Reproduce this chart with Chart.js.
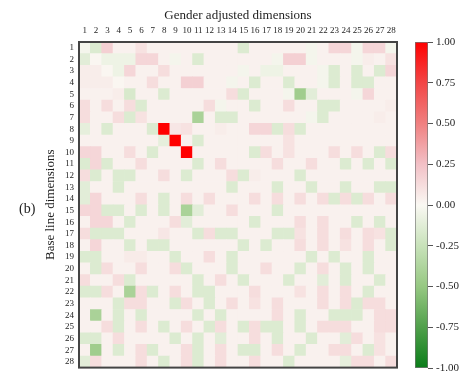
<!DOCTYPE html>
<html>
<head>
<meta charset="utf-8">
<script src="https://cdn.jsdelivr.net/npm/chart.js@4.4.0/dist/chart.umd.min.js"></script>
<style>
  body { margin: 0; background: #fff; }
  #wrap { position: relative; width: 474px; height: 378px; }
  #main { position: absolute; left: 0; top: 0; width: 474px; height: 378px; }
  #bar { position: absolute; left: 400px; top: 0; width: 74px; height: 378px; }
  #tag { position: absolute; left: 19px; top: 201px; font: 14px "Liberation Serif", serif; color: #222; }
</style>
</head>
<body>
<div id="wrap">
  <div id="main"><canvas id="heat"></canvas></div>
  <div id="bar"><canvas id="scale"></canvas></div>
  <div id="tag">(b)</div>
</div>
<script>
// column / row dimension labels
var colLabels = ['1','2','3','4','5','6','7','8','9','10','11','12','13','14','15','16','17','18','19','20','21','22','23','24','25','26','27','28'];
var rowLabels = ['1','2','3','4','5','6','7','8','9','10','11','12','13','14','15','16','17','18','19','20','21','22','23','24','25','26','27','28'];

// correlation values, one array per base line dimension (row), columns = gender adjusted dims
var corr = [
  [-0.03,-0.15,0.18,0.03,0.03,0.1,0.03,0.03,0.03,0.03,0.03,0.03,0.03,0.03,-0.15,0.03,0.03,0.03,0.03,0.03,-0.03,0.03,0.15,0.15,-0.03,0.15,0.15,-0.03],
  [-0.12,0.01,-0.06,-0.06,-0.06,0.15,0.15,0.03,-0.03,0.03,-0.15,0.03,0.03,0.03,0.03,0.03,0.03,-0.03,0.18,0.18,-0.03,0.03,0.03,0.03,-0.03,0.05,0.03,0.1],
  [0.05,0.05,0.01,-0.06,0.15,0.03,0.03,0.12,0.03,0.03,0.03,0.03,0.03,0.03,-0.03,0.03,-0.06,-0.06,0.03,0.03,0.03,-0.03,-0.15,0.03,-0.15,0.03,-0.15,0.15],
  [0.05,0.05,0.05,0.01,0.03,0.03,0.12,0.03,0.03,0.18,0.18,0.03,0.03,-0.03,0.03,-0.15,0.03,0.03,-0.15,0.03,0.03,-0.03,-0.15,0.03,-0.15,-0.15,0.03,0.03],
  [0.03,0.03,0.03,0.05,-0.17,0.03,0.03,-0.15,0.03,0.03,0.03,0.03,0.03,0.12,-0.15,0.03,0.03,0.03,-0.03,-0.45,-0.12,0.03,0.03,0.03,-0.03,0.15,0.03,0.03],
  [0.12,0.03,0.12,0.03,0.12,-0.15,0.03,0.03,0.03,0.03,0.03,0.12,-0.03,0.03,0.03,-0.15,0.03,0.03,0.12,0.03,0.03,-0.15,-0.15,0.03,0.03,0.03,0.03,0.05],
  [0.12,0.03,0.03,0.12,-0.15,0.1,0.03,0.03,0.03,0.03,-0.4,0.03,-0.15,-0.15,0.03,0.03,0.03,0.03,0.03,0.03,-0.03,-0.15,0.03,0.03,0.03,0.03,0.05,0.03],
  [-0.1,0.03,-0.15,0.03,0.03,0.03,-0.15,1,0.08,0.1,0.03,0.03,0.05,0.03,0.03,0.15,0.15,-0.15,0.12,-0.15,0.03,0.03,0.03,0.03,0.03,0.03,0.03,0.03],
  [0.03,0.03,0.03,0.03,0.03,0.03,0.03,-0.1,1,0.03,-0.15,0.03,0.03,0.03,0.03,0.03,0.03,0.03,0.1,0.03,0.03,0.03,0.03,0.03,0.03,0.03,0.03,0.03],
  [0.15,0.15,0.03,0.03,0.12,0.03,-0.15,0.03,0.03,1,0.03,0.03,0.03,0.03,0.03,-0.15,0.12,0.03,0.1,0.03,0.03,0.03,0.12,0.03,0.12,0.03,-0.15,0.12],
  [-0.15,0.15,-0.15,0.03,0.03,0.12,0.03,0.03,0.03,0.03,-0.15,0.03,0.12,0.03,0.03,0.03,0.03,0.12,0.03,0.03,0.12,0.03,0.03,-0.15,0.03,-0.15,0.03,-0.15],
  [0.12,-0.15,0.03,-0.15,-0.15,0.03,0.03,0.12,0.03,-0.15,0.03,0.03,0.03,0.12,-0.15,0.05,0.03,0.03,0.03,-0.15,0.03,0.03,0.03,0.03,0.03,0.03,0.03,0.03],
  [-0.12,0.03,0.03,-0.15,0.03,0.03,0.03,0.03,0.03,0.03,0.03,0.03,0.03,-0.15,0.03,0.03,0.03,-0.15,0.03,0.03,-0.15,0.03,0.03,-0.15,0.03,0.03,-0.15,-0.15],
  [-0.12,0.15,0.03,0.03,0.03,0.12,0.03,-0.15,0.03,0.12,0.03,0.12,0.03,0.03,0.03,0.12,0.03,0.12,0.03,0.12,0.03,0.12,-0.15,0.12,-0.15,0.12,0.03,0.12],
  [0.15,0.15,-0.15,-0.15,0.03,-0.15,0.03,-0.15,0.03,-0.4,-0.12,0.03,0.03,0.12,0.03,0.03,0.03,-0.15,0.03,0.03,0.03,0.03,0.03,0.03,0.03,0.03,0.03,0.03],
  [0.03,0.15,0.15,0.03,-0.15,0.03,0.03,0.03,0.12,-0.12,0.03,0.03,0.03,0.03,0.03,-0.15,0.03,0.03,0.03,0.12,0.03,0.12,0.03,0.03,-0.15,0.03,-0.15,0.03],
  [0.12,-0.15,-0.15,-0.15,0.03,0.03,0.03,0.08,0.03,0.03,-0.15,0.12,-0.15,-0.15,0.03,0.03,0.03,-0.15,-0.15,0.1,0.03,0.12,0.03,0.12,0.03,0.12,0.1,-0.15],
  [0.03,0.15,0.03,0.03,-0.15,0.03,-0.15,-0.15,0.03,0.03,0.03,0.03,0.03,0.03,-0.15,0.03,-0.15,0.03,0.03,0.12,0.03,0.12,0.03,0.1,0.03,0.12,0.03,-0.15],
  [-0.15,-0.15,0.03,0.03,0.06,0.06,0.03,0.03,-0.15,0.03,0.03,0.12,0.03,-0.15,0.03,0.03,0.03,0.03,0.03,0.03,-0.15,0.03,-0.15,0.03,0.03,-0.15,0.03,0.03],
  [0.03,-0.15,0.12,0.03,0.03,0.12,0.03,0.03,0.12,-0.15,0.03,0.03,0.03,-0.15,0.03,0.03,0.12,0.03,0.03,-0.15,0.03,0.12,0.03,-0.15,0.03,-0.15,0.03,0.03],
  [0.12,0.03,0.03,0.12,-0.15,0.03,0.03,0.03,0.03,0.03,-0.15,0.03,0.12,0.03,-0.15,0.03,0.03,0.03,-0.15,0.03,0.03,-0.12,0.03,-0.15,0.03,0.03,-0.15,0.03],
  [-0.15,-0.15,0.12,0.03,-0.4,0.12,-0.15,0.03,0.12,0.03,-0.15,-0.15,0.03,0.03,0.03,0.12,0.03,0.03,0.03,0.1,0.03,0.12,0.03,0.12,0.03,-0.15,0.03,0.03],
  [0.03,0.03,0.03,-0.15,0.12,0.12,0.03,0.03,-0.15,0.12,0.03,-0.15,0.03,0.12,0.03,0.1,0.03,0.12,0.03,0.03,0.03,0.12,0.03,0.12,-0.15,0.12,0.12,0.03],
  [0.03,-0.4,0.03,-0.15,0.03,-0.15,0.03,0.03,0.03,0.03,-0.15,0.03,-0.15,0.03,0.03,0.03,0.03,0.12,0.03,-0.15,0.03,0.03,-0.15,-0.15,-0.15,0.03,0.12,0.12],
  [0.03,0.03,0.12,-0.15,0.03,0.12,0.03,-0.15,0.03,0.12,0.03,-0.15,0.12,0.03,-0.15,0.12,-0.15,-0.15,0.03,-0.15,0.03,0.12,0.12,0.12,0.03,0.03,0.12,0.12],
  [-0.15,-0.15,0.03,0.12,0.03,0.03,0.03,0.03,-0.15,0.03,-0.15,0.03,-0.12,0.03,0.03,0.12,0.03,-0.15,0.03,0.03,-0.15,0.03,0.03,-0.12,0.12,0.03,0.1,0.03],
  [0.03,-0.45,0.03,-0.15,0.03,0.12,-0.15,0.03,0.03,0.12,-0.15,0.03,0.12,0.03,-0.15,-0.15,0.03,0.12,0.03,-0.15,0.03,0.03,0.12,0.12,0.03,-0.15,0.1,0.03],
  [-0.12,0.12,0.03,0.03,0.03,0.12,0.03,-0.15,0.03,0.12,-0.15,0.03,0.12,0.03,0.03,0.12,0.03,0.03,-0.15,0.03,0.03,0.03,0.03,-0.1,0.12,0.12,0.03,0.12]
];

// colour bar range and tick labels
var scaleRange = [-1, 1];
var scaleTicks = [-1, -0.75, -0.5, -0.25, 0, 0.25, 0.5, 0.75, 1];

// green - cream - red colour map
var stops = [
  [-1,    [10, 125, 25]],
  [-0.75, [80, 160, 75]],
  [-0.5,  [150, 200, 130]],
  [-0.25, [200, 226, 186]],
  [0,     [250, 248, 243]],
  [0.25,  [242, 192, 198]],
  [0.5,   [240, 128, 128]],
  [0.75,  [242, 70, 70]],
  [1,     [255, 0, 0]]
];

function colorFor(v) {
  for (var i = 1; i < stops.length; i++) {
    if (v <= stops[i][0]) {
      var a = stops[i - 1], b = stops[i];
      var t = (v - a[0]) / (b[0] - a[0]);
      var c = a[1].map(function (x, k) { return Math.round(x + (b[1][k] - x) * t); });
      return 'rgb(' + c.join(',') + ')';
    }
  }
  return 'rgb(255,0,0)';
}

var serif = '"Liberation Serif", "Times New Roman", serif';
Chart.defaults.font.family = serif;
Chart.defaults.color = '#1e1e1e';

// one stacked dataset per row; row 28 sits at the bottom of the stack
var datasets = [];
for (var r = rowLabels.length - 1; r >= 0; r--) {
  datasets.push({
    label: rowLabels[r],
    data: colLabels.map(function () { return 1; }),
    backgroundColor: corr[r].map(colorFor),
    borderWidth: 0,
    barPercentage: 1,
    categoryPercentage: 1
  });
}

var frame = {
  id: 'frame',
  afterDatasetsDraw: function (chart) {
    var a = chart.chartArea, ctx = chart.ctx;
    ctx.save();
    ctx.strokeStyle = '#444';
    ctx.lineWidth = 2;
    ctx.strokeRect(a.left, a.top, a.right - a.left, a.bottom - a.top);
    ctx.restore();
  }
};

new Chart(document.getElementById('heat'), {
  type: 'bar',
  data: { labels: colLabels, datasets: datasets },
  plugins: [frame],
  options: {
    responsive: true,
    maintainAspectRatio: false,
    animation: false,
    layout: { padding: { left: 43, right: 77, top: 8, bottom: 10 } },
    plugins: { legend: { display: false }, tooltip: { enabled: false } },
    scales: {
      x: {
        position: 'top',
        stacked: true,
        grid: { display: false, drawTicks: false },
        border: { display: false },
        ticks: { font: { size: 9 }, padding: 6, maxRotation: 0, autoSkip: false },
        title: { display: true, text: 'Gender adjusted dimensions', font: { size: 13 }, padding: 0 },
        afterFit: function (s) { s.height = 34; }
      },
      y: {
        stacked: true,
        min: 0,
        max: rowLabels.length,
        grid: { display: false, drawTicks: false },
        border: { display: false },
        afterBuildTicks: function (s) {
          s.ticks = rowLabels.map(function (l, i) { return { value: rowLabels.length - i - 0.5 }; });
        },
        ticks: {
          font: { size: 9 },
          padding: 5,
          autoSkip: false,
          callback: function (v) { return rowLabels[Math.round(rowLabels.length - 0.5 - v)]; }
        },
        title: { display: true, text: 'Base line dimensions', font: { size: 13 }, padding: 0 },
        afterFit: function (s) { s.width = 36; }
      }
    }
  }
});

new Chart(document.getElementById('scale'), {
  type: 'bar',
  data: {
    labels: [''],
    datasets: [{
      data: [scaleRange],
      backgroundColor: function (c) {
        var a = c.chart.chartArea;
        if (!a) return '#fff';
        var g = c.chart.ctx.createLinearGradient(0, a.bottom, 0, a.top);
        stops.forEach(function (s) {
          g.addColorStop((s[0] - scaleRange[0]) / (scaleRange[1] - scaleRange[0]), 'rgb(' + s[1].join(',') + ')');
        });
        return g;
      },
      borderColor: '#777',
      borderWidth: 1,
      borderSkipped: false,
      barPercentage: 1,
      categoryPercentage: 1
    }]
  },
  options: {
    responsive: true,
    maintainAspectRatio: false,
    animation: false,
    layout: { padding: { left: 15, right: 0, top: 42, bottom: 10 } },
    plugins: { legend: { display: false }, tooltip: { enabled: false } },
    scales: {
      x: { display: false },
      y: {
        position: 'right',
        min: scaleRange[0],
        max: scaleRange[1],
        grid: { drawOnChartArea: false, drawTicks: true, tickLength: 5, color: '#555' },
        border: { display: false },
        afterBuildTicks: function (s) {
          s.ticks = scaleTicks.map(function (v) { return { value: v }; });
        },
        ticks: {
          font: { size: 11 },
          padding: 3,
          callback: function (v) { return v.toFixed(2); }
        },
        afterFit: function (s) { s.width = 46; }
      }
    }
  }
});
</script>
</body>
</html>
